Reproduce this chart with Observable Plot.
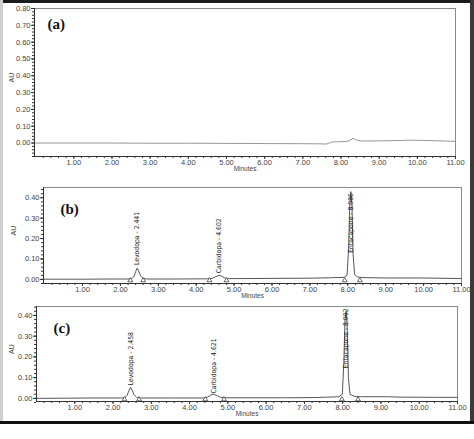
<!DOCTYPE html>
<html><head><meta charset="utf-8">
<script src="https://cdn.jsdelivr.net/npm/d3@7"></script>
<script src="https://cdn.jsdelivr.net/npm/@observablehq/plot@0.6"></script>
<style>
html,body{margin:0;padding:0;background:#fff;}
#fig{position:relative;width:474px;height:439px;overflow:hidden;background:#fff;}
.panel{position:absolute;left:0;}
.bar{position:absolute;}
</style></head><body>
<div id="fig"></div>
<script>
// ---------- data ----------
const xMajor = [1, 2, 3, 4, 5, 6, 7, 8, 9, 10, 11];
const xMinor = d3.range(1, 56).map(i => i / 5);
const yMajorA = [0, 0.1, 0.2, 0.3, 0.4, 0.5, 0.6, 0.7, 0.8];
const yMinorA = d3.range(-4, 41).map(i => i / 50);
const yMajorBC = [0, 0.1, 0.2, 0.3, 0.4];
const yMinorBC = d3.range(-1, 23).map(i => i / 50);
const panelLabels = ["(a)", "(b)", "(c)"];

// panel (a): blank
const traceA = [[-0.03,0],[1,0],[2,0],[3,-0.001],[4,-0.001],[5,-0.002],[6,-0.003],[7,-0.004],[7.5,-0.005],[7.62,-0.006],[7.72,0.003],[7.8,0.007],[8.0,0.008],[8.18,0.011],[8.26,0.02],[8.32,0.028],[8.38,0.021],[8.45,0.014],[8.6,0.012],[9,0.013],[9.5,0.015],[9.8,0.017],[10.3,0.015],[11,0.01]];

// panel (b): standard
const traceB = [[-0.03,0.001],[1,0.001],[1.7,0.002],[2.2,0.002],[2.3,0.004],[2.36,0.015],[2.4,0.038],[2.44,0.055],[2.48,0.042],[2.53,0.018],[2.6,0.005],[2.7,0.002],[3.5,0.002],[4.3,0.003],[4.42,0.005],[4.5,0.012],[4.6,0.02],[4.67,0.016],[4.74,0.008],[4.82,0.004],[5,0.004],[6,0.005],[7,0.006],[7.5,0.008],[7.9,0.01],[7.98,0.02],[8.02,0.15],[8.05,0.36],[8.08,0.43],[8.11,0.36],[8.14,0.12],[8.18,0.025],[8.25,0.012],[8.4,0.009],[9,0.007],[10,0.007],[11,0.004]];
const peakNamesB = ["Levodopa - 2.441", "Carbidopa - 4.602", "Entacapone - 8.086"];
const peakTimesB = [2.441, 4.602, 8.086];
const peakLabelYB = [0.07, 0.03, 0.13];
const peakBoundsB = [2.26, 2.6, 4.35, 4.8, 7.92, 8.32];

// panel (c): sample
const traceC = [[0,0],[0.8,0.001],[1.5,0.002],[2.2,0.002],[2.3,0.003],[2.37,0.015],[2.42,0.04],[2.46,0.053],[2.5,0.04],[2.55,0.017],[2.62,0.004],[2.7,0.002],[3.5,0.002],[4.4,0.002],[4.48,0.007],[4.55,0.016],[4.62,0.02],[4.7,0.015],[4.78,0.007],[4.88,0.003],[5.5,0.003],[6.5,0.003],[7.3,0.004],[7.6,0.006],[7.9,0.008],[7.99,0.02],[8.03,0.17],[8.06,0.38],[8.09,0.42],[8.12,0.34],[8.15,0.1],[8.19,0.02],[8.3,0.01],[8.5,0.008],[9.2,0.008],[9.5,0.006],[10.5,0.005],[11,0.005]];
const peakNamesC = ["Levodopa - 2.458", "Carbidopa - 4.621", "Entacapone - 8.092"];
const peakTimesC = [2.458, 4.621, 8.092];
const peakLabelYC = [0.063, 0.024, 0.145];
const peakBoundsC = [2.3, 2.68, 4.41, 4.9, 7.98, 8.4];

// ---------- layout ----------
const panels = [
  {top: 0, h: 176, mt: 8, mb: 20, ml: 34, mr: 19, xd: [-0.03, 11], yd: [-0.08, 0.8],
   trace: traceA, traceColor: "#8a8a8a", yMajor: yMajorA, yMinor: yMinorA,
   label: panelLabels[0], ldx: 13, ldy: 10, auOff: 23, peaks: [], bounds: []},
  {top: 176, h: 124, mt: 11, mb: 17, ml: 43, mr: 13, xd: [-0.03, 11], yd: [-0.02, 0.45],
   trace: traceB, traceColor: "#444", yMajor: yMajorBC, yMinor: yMinorBC,
   label: panelLabels[1], ldx: 17, ldy: 16, auOff: 30,
   peaks: peakNamesB.map((n, i) => ({name: n, t: peakTimesB[i], ly: peakLabelYB[i]})), bounds: peakBoundsB},
  {top: 300, h: 123, mt: 6, mb: 22, ml: 36, mr: 17, xd: [0, 11], yd: [-0.015, 0.443],
   trace: traceC, traceColor: "#444", yMajor: yMajorBC, yMinor: yMinorBC,
   label: panelLabels[2], ldx: 17, ldy: 16, auOff: 25,
   peaks: peakNamesC.map((n, i) => ({name: n, t: peakTimesC[i], ly: peakLabelYC[i]})), bounds: peakBoundsC}
];

const fig = document.getElementById("fig");
const fmt = d => d.toFixed(2);

for (const p of panels) {
  const svg = Plot.plot({
    width: 474, height: p.h,
    marginTop: p.mt, marginBottom: p.mb, marginLeft: p.ml, marginRight: p.mr,
    x: {domain: p.xd},
    y: {domain: p.yd},
    style: {background: "transparent", fontFamily: "'Liberation Sans', Arial, sans-serif", fontSize: "7.5px", color: "#444", overflow: "visible"},
    marks: [
      Plot.frame({stroke: "#8a8a8a"}),
      Plot.line(p.trace, {x: d => d[0], y: d => d[1], stroke: p.traceColor, strokeWidth: 0.9}),
      Plot.dot(p.bounds, {x: d => d, y: 0, symbol: "triangle", r: 1.8, stroke: "#444", fill: "white", strokeWidth: 0.8, dy: 1}),
      Plot.text(p.peaks, {x: "t", y: "ly", text: "name", rotate: -90, textAnchor: "start", lineAnchor: "middle",
        fontFamily: "'Liberation Sans Narrow', 'Arial Narrow', 'DejaVu Sans Condensed', sans-serif", fontSize: 6.8, fill: "#1a1a1a"}),
      Plot.axisX({ticks: xMinor, tickSize: 2, tickFormat: () => "", label: null, stroke: "#333"}),
      Plot.axisX({ticks: xMajor, tickSize: 3, tickPadding: 0, tickFormat: fmt, label: null, stroke: "#333", fill: "#444"}),
      Plot.axisY({ticks: p.yMinor, tickSize: 2, tickFormat: () => "", label: null, stroke: "#333"}),
      Plot.axisY({ticks: p.yMajor, tickSize: 3, tickPadding: 1, tickFormat: fmt, label: null, stroke: "#333", fill: "#444"}),
      Plot.frame({anchor: "left", stroke: "#333"}),
      Plot.frame({anchor: "bottom", stroke: "#333"}),
      Plot.text(["Minutes"], {frameAnchor: "bottom", dy: 14, fontSize: 6.5, fill: "#444"}),
      Plot.text(["AU"], {frameAnchor: "left", dx: -p.auOff, rotate: -90, fontSize: 7, fill: "#444"}),
      Plot.text([p.label], {frameAnchor: "top-left", dx: p.ldx, dy: p.ldy, fontFamily: "'Liberation Serif', 'Times New Roman', serif", fontWeight: "bold", fontSize: 15, fill: "#111"})
    ]
  });
  svg.classList.add("panel");
  svg.style.top = p.top + "px";
  fig.appendChild(svg);
}

// figure border decorations
function bar(l, t, w, h, c) {
  const d = document.createElement("div");
  d.className = "bar";
  Object.assign(d.style, {left: l + "px", top: t + "px", width: w + "px", height: h + "px", background: c});
  fig.appendChild(d);
}
bar(0, 0, 474, 3, "#1c1c1c");
bar(0, 0, 3, 423, "#cfcfcf");
bar(470, 0, 4, 423, "#3a3a3a");
bar(0, 421, 474, 2.5, "#111");
</script>
</body></html>
